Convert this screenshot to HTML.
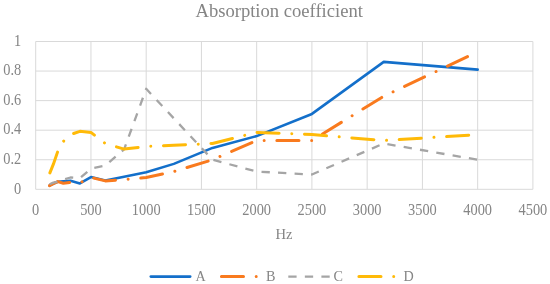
<!DOCTYPE html>
<html><head><meta charset="utf-8"><style>
html,body{margin:0;padding:0;background:#fff;}
body{width:550px;height:284px;overflow:hidden;}
svg{display:block;}
text{font-family:"Liberation Serif","DejaVu Serif",serif;fill:#858585;}
</style></head><body>
<svg width="550" height="284" viewBox="0 0 550 284">
<rect width="550" height="284" fill="#fff"/>
<text x="279.2" y="17.2" text-anchor="middle" font-size="18.6">Absorption coefficient</text>
<g stroke="#d9d9d9" stroke-width="1" fill="none">
<line x1="35.70" y1="41.50" x2="35.70" y2="189.30"/>
<line x1="90.94" y1="41.50" x2="90.94" y2="189.30"/>
<line x1="146.19" y1="41.50" x2="146.19" y2="189.30"/>
<line x1="201.43" y1="41.50" x2="201.43" y2="189.30"/>
<line x1="256.68" y1="41.50" x2="256.68" y2="189.30"/>
<line x1="311.92" y1="41.50" x2="311.92" y2="189.30"/>
<line x1="367.17" y1="41.50" x2="367.17" y2="189.30"/>
<line x1="422.41" y1="41.50" x2="422.41" y2="189.30"/>
<line x1="477.66" y1="41.50" x2="477.66" y2="189.30"/>
<line x1="532.90" y1="41.50" x2="532.90" y2="189.30"/>
<line x1="35.70" y1="189.30" x2="532.90" y2="189.30"/>
<line x1="35.70" y1="159.74" x2="532.90" y2="159.74"/>
<line x1="35.70" y1="130.18" x2="532.90" y2="130.18"/>
<line x1="35.70" y1="100.62" x2="532.90" y2="100.62"/>
<line x1="35.70" y1="71.06" x2="532.90" y2="71.06"/>
<line x1="35.70" y1="41.50" x2="532.90" y2="41.50"/>
</g>
<g font-size="14.4">
<text transform="translate(21.2 193.60) scale(1 1.18)" text-anchor="end">0</text>
<text transform="translate(21.2 164.04) scale(1 1.18)" text-anchor="end">0.2</text>
<text transform="translate(21.2 134.48) scale(1 1.18)" text-anchor="end">0.4</text>
<text transform="translate(21.2 104.92) scale(1 1.18)" text-anchor="end">0.6</text>
<text transform="translate(21.2 75.36) scale(1 1.18)" text-anchor="end">0.8</text>
<text transform="translate(21.2 45.80) scale(1 1.18)" text-anchor="end">1</text>
<text transform="translate(35.70 215.2) scale(1 1.18)" text-anchor="middle">0</text>
<text transform="translate(90.94 215.2) scale(1 1.18)" text-anchor="middle">500</text>
<text transform="translate(146.19 215.2) scale(1 1.18)" text-anchor="middle">1000</text>
<text transform="translate(201.43 215.2) scale(1 1.18)" text-anchor="middle">1500</text>
<text transform="translate(256.68 215.2) scale(1 1.18)" text-anchor="middle">2000</text>
<text transform="translate(311.92 215.2) scale(1 1.18)" text-anchor="middle">2500</text>
<text transform="translate(367.17 215.2) scale(1 1.18)" text-anchor="middle">3000</text>
<text transform="translate(422.41 215.2) scale(1 1.18)" text-anchor="middle">3500</text>
<text transform="translate(477.66 215.2) scale(1 1.18)" text-anchor="middle">4000</text>
<text transform="translate(532.90 215.2) scale(1 1.18)" text-anchor="middle">4500</text>
</g>
<text x="284.1" y="238.5" text-anchor="middle" font-size="14.6">Hz</text>
<g fill="none" stroke-linejoin="round">
<polyline points="49.51,185.61 53.38,183.68 57.80,181.76 63.32,181.32 70.50,180.73 79.90,183.39 90.94,177.03 105.31,180.43 124.09,176.74 146.19,172.30 173.81,163.88 212.48,147.92 256.68,136.09 311.92,113.92 383.74,61.90 477.66,69.58" stroke="#136fca" stroke-width="2.6" stroke-linecap="round"/>
<polyline points="49.51,185.61 53.38,183.68 57.80,181.61 63.32,183.24 70.50,182.35 79.90,182.80 90.94,177.48 105.31,180.88 124.09,179.55 146.19,177.48 173.81,171.56 212.48,159.74 256.68,140.53 311.92,140.53 383.74,96.19 477.66,51.85" stroke="#f97a1e" stroke-width="3" stroke-linecap="round" stroke-dasharray="22.1 12.7 0.001 12.7" stroke-dashoffset="0.8"/>
<polyline points="49.51,184.27 53.38,182.65 57.80,181.91 63.32,179.69 70.50,177.48 79.90,178.22 90.94,168.61 105.31,165.65 124.09,149.39 146.19,88.80 212.48,159.74 256.68,171.56 311.92,174.52 383.74,143.48 477.66,159.74" stroke="#a5a5a5" stroke-width="2.3" stroke-dasharray="8.3 8.25"/>
<polyline points="49.51,173.78 53.38,164.17 57.80,151.32 63.32,141.41 70.50,134.61 79.90,131.36 90.94,132.40 105.31,143.48 124.09,149.10 146.19,146.44 173.81,145.26 212.48,143.48 256.68,132.40 311.92,134.61 383.74,140.53 477.66,134.61" stroke="#ffba08" stroke-width="3" stroke-linecap="round" stroke-dasharray="22.1 12.7 0.001 12.7" stroke-dashoffset="-1.0"/>
</g>
<g fill="none">
<line x1="150.8" y1="276.6" x2="190.2" y2="276.6" stroke="#136fca" stroke-width="2.6" stroke-linecap="round"/>
<line x1="219.9" y1="276.6" x2="261.9" y2="276.6" stroke="#f97a1e" stroke-width="3" stroke-linecap="round" stroke-dasharray="22.1 12.7 0.001 12.7" stroke-dashoffset="-1.5"/>
<line x1="288.3" y1="276.6" x2="330.3" y2="276.6" stroke="#a5a5a5" stroke-width="2.3" stroke-dasharray="8.3 8.25"/>
<line x1="357.4" y1="276.6" x2="399.4" y2="276.6" stroke="#ffba08" stroke-width="3" stroke-linecap="round" stroke-dasharray="22.1 12.7 0.001 12.7" stroke-dashoffset="-1.5"/>
</g>
<g font-size="14.2">
<text x="195.6" y="280.5">A</text>
<text x="266" y="280.5">B</text>
<text x="333.5" y="280.5">C</text>
<text x="403.5" y="280.5">D</text>
</g>
</svg>
</body></html>
